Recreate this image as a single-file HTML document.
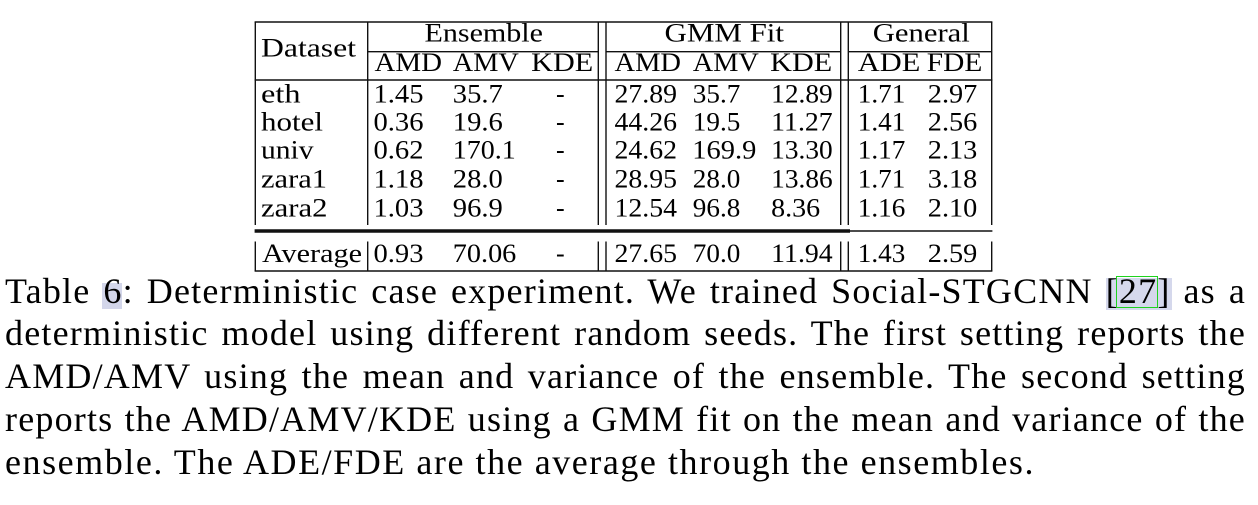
<!DOCTYPE html>
<html>
<head>
<meta charset="utf-8">
<style>
  html { margin:0; padding:0; background:#fff; }
  body { margin:0; padding:0; width:1258px; height:505px; overflow:hidden; position:relative; }
  svg.tab { position:absolute; left:0; top:0; }
  svg.tab text { font-family:"Liberation Serif", serif; font-size:26px; fill:#000; }
  .cl {
    position:absolute; left:5px; width:1241px;
    font-family:"Liberation Serif", serif; font-size:36px; line-height:40px;
    letter-spacing:1.2px; color:#000; white-space:normal;
    text-align:justify; text-align-last:justify;
  }
  .cl.last { text-align:left; text-align-last:left; letter-spacing:1.55px; }
  .hl6 { position:relative; }
  .hl6::before { content:""; position:absolute; left:-1px; right:1px; top:12px; height:26px; background:#d3d6ea; z-index:-1; }
  .ref { position:relative; }
  .ref::before { content:""; position:absolute; left:0; right:-1px; top:7px; height:32px; background:#d5d8ec; z-index:-1; }
  .g { position:relative; }
  .g::after { content:""; position:absolute; left:-3px; right:-1px; top:5px; height:30px; border:1px solid #1fd21f; }
</style>
</head>
<body>
<svg class="tab" width="1258" height="280" viewBox="0 0 1258 280" xmlns="http://www.w3.org/2000/svg">
  <g stroke="#111" stroke-width="1.4" fill="none">
    <line x1="254.6" y1="22" x2="992.4" y2="22"/>
    <line x1="367.7" y1="51.7" x2="598.3" y2="51.7"/>
    <line x1="606" y1="51.7" x2="840.7" y2="51.7"/>
    <line x1="848.3" y1="51.7" x2="991.7" y2="51.7"/>
    <line x1="254.6" y1="80" x2="992.4" y2="80"/>
    <line x1="254.6" y1="231" x2="850" y2="231" stroke-width="3.5"/>
    <line x1="850" y1="231" x2="992.4" y2="231" stroke-width="1.5"/>
    <line x1="254.6" y1="271" x2="992.4" y2="271"/>
    <line x1="255.3" y1="22" x2="255.3" y2="225"/>
    <line x1="367.7" y1="22" x2="367.7" y2="225"/>
    <line x1="598.3" y1="22" x2="598.3" y2="225"/>
    <line x1="606" y1="22" x2="606" y2="225"/>
    <line x1="840.7" y1="22" x2="840.7" y2="225"/>
    <line x1="848.3" y1="22" x2="848.3" y2="225"/>
    <line x1="991.7" y1="22" x2="991.7" y2="225"/>
    <line x1="255.3" y1="241.5" x2="255.3" y2="271"/>
    <line x1="367.7" y1="241.5" x2="367.7" y2="271"/>
    <line x1="598.3" y1="241.5" x2="598.3" y2="271"/>
    <line x1="606" y1="241.5" x2="606" y2="271"/>
    <line x1="840.7" y1="241.5" x2="840.7" y2="271"/>
    <line x1="848.3" y1="241.5" x2="848.3" y2="271"/>
    <line x1="991.7" y1="241.5" x2="991.7" y2="271"/>
  </g>

  <text x="261" y="56.7" textLength="95" lengthAdjust="spacingAndGlyphs">Dataset</text>
  <text x="424.5" y="41.7" textLength="118.5" lengthAdjust="spacingAndGlyphs">Ensemble</text>
  <text x="664.5" y="41.7" textLength="119.5" lengthAdjust="spacingAndGlyphs">GMM Fit</text>
  <text x="872.8" y="41.7" textLength="97" lengthAdjust="spacingAndGlyphs">General</text>

  <text x="374.5" y="71" textLength="67.5" lengthAdjust="spacingAndGlyphs">AMD</text>
  <text x="452.8" y="71" textLength="66" lengthAdjust="spacingAndGlyphs">AMV</text>
  <text x="531.2" y="71" textLength="62" lengthAdjust="spacingAndGlyphs">KDE</text>
  <text x="614.5" y="71" textLength="66.5" lengthAdjust="spacingAndGlyphs">AMD</text>
  <text x="692.8" y="71" textLength="66" lengthAdjust="spacingAndGlyphs">AMV</text>
  <text x="770.2" y="71" textLength="62" lengthAdjust="spacingAndGlyphs">KDE</text>
  <text x="857.8" y="71" textLength="62.5" lengthAdjust="spacingAndGlyphs">ADE</text>
  <text x="926.8" y="71" textLength="55.5" lengthAdjust="spacingAndGlyphs">FDE</text>

  <text x="261" y="102.3" textLength="39.5" lengthAdjust="spacingAndGlyphs">eth</text>
  <text x="373.5" y="102.3" textLength="50" lengthAdjust="spacingAndGlyphs">1.45</text>
  <text x="452.8" y="102.3" textLength="50" lengthAdjust="spacingAndGlyphs">35.7</text>
  <text x="556" y="102.3">-</text>
  <text x="614.5" y="102.3" textLength="62.5" lengthAdjust="spacingAndGlyphs">27.89</text>
  <text x="692.8" y="102.3" textLength="47.5" lengthAdjust="spacingAndGlyphs">35.7</text>
  <text x="771.2" y="102.3" textLength="61.5" lengthAdjust="spacingAndGlyphs">12.89</text>
  <text x="857.8" y="102.3" textLength="47.5" lengthAdjust="spacingAndGlyphs">1.71</text>
  <text x="927.8" y="102.3" textLength="49.5" lengthAdjust="spacingAndGlyphs">2.97</text>

  <text x="261" y="130.5" textLength="62" lengthAdjust="spacingAndGlyphs">hotel</text>
  <text x="373.5" y="130.5" textLength="50" lengthAdjust="spacingAndGlyphs">0.36</text>
  <text x="452.8" y="130.5" textLength="50" lengthAdjust="spacingAndGlyphs">19.6</text>
  <text x="556" y="130.5">-</text>
  <text x="614.5" y="130.5" textLength="62.5" lengthAdjust="spacingAndGlyphs">44.26</text>
  <text x="692.8" y="130.5" textLength="47.5" lengthAdjust="spacingAndGlyphs">19.5</text>
  <text x="771.2" y="130.5" textLength="61.5" lengthAdjust="spacingAndGlyphs">11.27</text>
  <text x="857.8" y="130.5" textLength="47.5" lengthAdjust="spacingAndGlyphs">1.41</text>
  <text x="927.8" y="130.5" textLength="49.5" lengthAdjust="spacingAndGlyphs">2.56</text>

  <text x="261" y="158.6" textLength="52.5" lengthAdjust="spacingAndGlyphs">univ</text>
  <text x="373.5" y="158.6" textLength="50" lengthAdjust="spacingAndGlyphs">0.62</text>
  <text x="452.8" y="158.6" textLength="63" lengthAdjust="spacingAndGlyphs">170.1</text>
  <text x="556" y="158.6">-</text>
  <text x="614.5" y="158.6" textLength="62.5" lengthAdjust="spacingAndGlyphs">24.62</text>
  <text x="692.3" y="158.6" textLength="64" lengthAdjust="spacingAndGlyphs">169.9</text>
  <text x="771.2" y="158.6" textLength="61.5" lengthAdjust="spacingAndGlyphs">13.30</text>
  <text x="857.8" y="158.6" textLength="47.5" lengthAdjust="spacingAndGlyphs">1.17</text>
  <text x="927.8" y="158.6" textLength="49.5" lengthAdjust="spacingAndGlyphs">2.13</text>

  <text x="261" y="187.6" textLength="66" lengthAdjust="spacingAndGlyphs">zara1</text>
  <text x="373.5" y="187.6" textLength="50" lengthAdjust="spacingAndGlyphs">1.18</text>
  <text x="452.8" y="187.6" textLength="50" lengthAdjust="spacingAndGlyphs">28.0</text>
  <text x="556" y="187.6">-</text>
  <text x="614.5" y="187.6" textLength="62.5" lengthAdjust="spacingAndGlyphs">28.95</text>
  <text x="692.8" y="187.6" textLength="47.5" lengthAdjust="spacingAndGlyphs">28.0</text>
  <text x="771.2" y="187.6" textLength="61.5" lengthAdjust="spacingAndGlyphs">13.86</text>
  <text x="857.8" y="187.6" textLength="47.5" lengthAdjust="spacingAndGlyphs">1.71</text>
  <text x="927.8" y="187.6" textLength="49.5" lengthAdjust="spacingAndGlyphs">3.18</text>

  <text x="261" y="216.6" textLength="66.5" lengthAdjust="spacingAndGlyphs">zara2</text>
  <text x="373.5" y="216.6" textLength="50" lengthAdjust="spacingAndGlyphs">1.03</text>
  <text x="452.8" y="216.6" textLength="50" lengthAdjust="spacingAndGlyphs">96.9</text>
  <text x="556" y="216.6">-</text>
  <text x="614.5" y="216.6" textLength="62.5" lengthAdjust="spacingAndGlyphs">12.54</text>
  <text x="692.8" y="216.6" textLength="47.5" lengthAdjust="spacingAndGlyphs">96.8</text>
  <text x="771.2" y="216.6" textLength="49" lengthAdjust="spacingAndGlyphs">8.36</text>
  <text x="857.8" y="216.6" textLength="47.5" lengthAdjust="spacingAndGlyphs">1.16</text>
  <text x="927.8" y="216.6" textLength="49.5" lengthAdjust="spacingAndGlyphs">2.10</text>

  <text x="262" y="261.8" textLength="100" lengthAdjust="spacingAndGlyphs">Average</text>
  <text x="373.5" y="261.8" textLength="50" lengthAdjust="spacingAndGlyphs">0.93</text>
  <text x="452.8" y="261.8" textLength="63.5" lengthAdjust="spacingAndGlyphs">70.06</text>
  <text x="556" y="261.8">-</text>
  <text x="614.5" y="261.8" textLength="62.5" lengthAdjust="spacingAndGlyphs">27.65</text>
  <text x="692.8" y="261.8" textLength="47.5" lengthAdjust="spacingAndGlyphs">70.0</text>
  <text x="771.2" y="261.8" textLength="61.5" lengthAdjust="spacingAndGlyphs">11.94</text>
  <text x="857.8" y="261.8" textLength="47.5" lengthAdjust="spacingAndGlyphs">1.43</text>
  <text x="927.8" y="261.8" textLength="49.5" lengthAdjust="spacingAndGlyphs">2.59</text>
</svg>

<div class="cl" style="top:270.9px">Table <span class="hl6">6</span>: Deterministic case experiment. We trained Social-STGCNN <span class="ref">[<span class="g">27</span>]</span> as a</div>
<div class="cl" style="top:312.9px">deterministic model using different random seeds. The first setting reports the</div>
<div class="cl" style="top:356px">AMD/AMV using the mean and variance of the ensemble. The second setting</div>
<div class="cl" style="top:398.9px">reports the AMD/AMV/KDE using a GMM fit on the mean and variance of the</div>
<div class="cl last" style="top:441.9px">ensemble. The ADE/FDE are the average through the ensembles.</div>
</body>
</html>
